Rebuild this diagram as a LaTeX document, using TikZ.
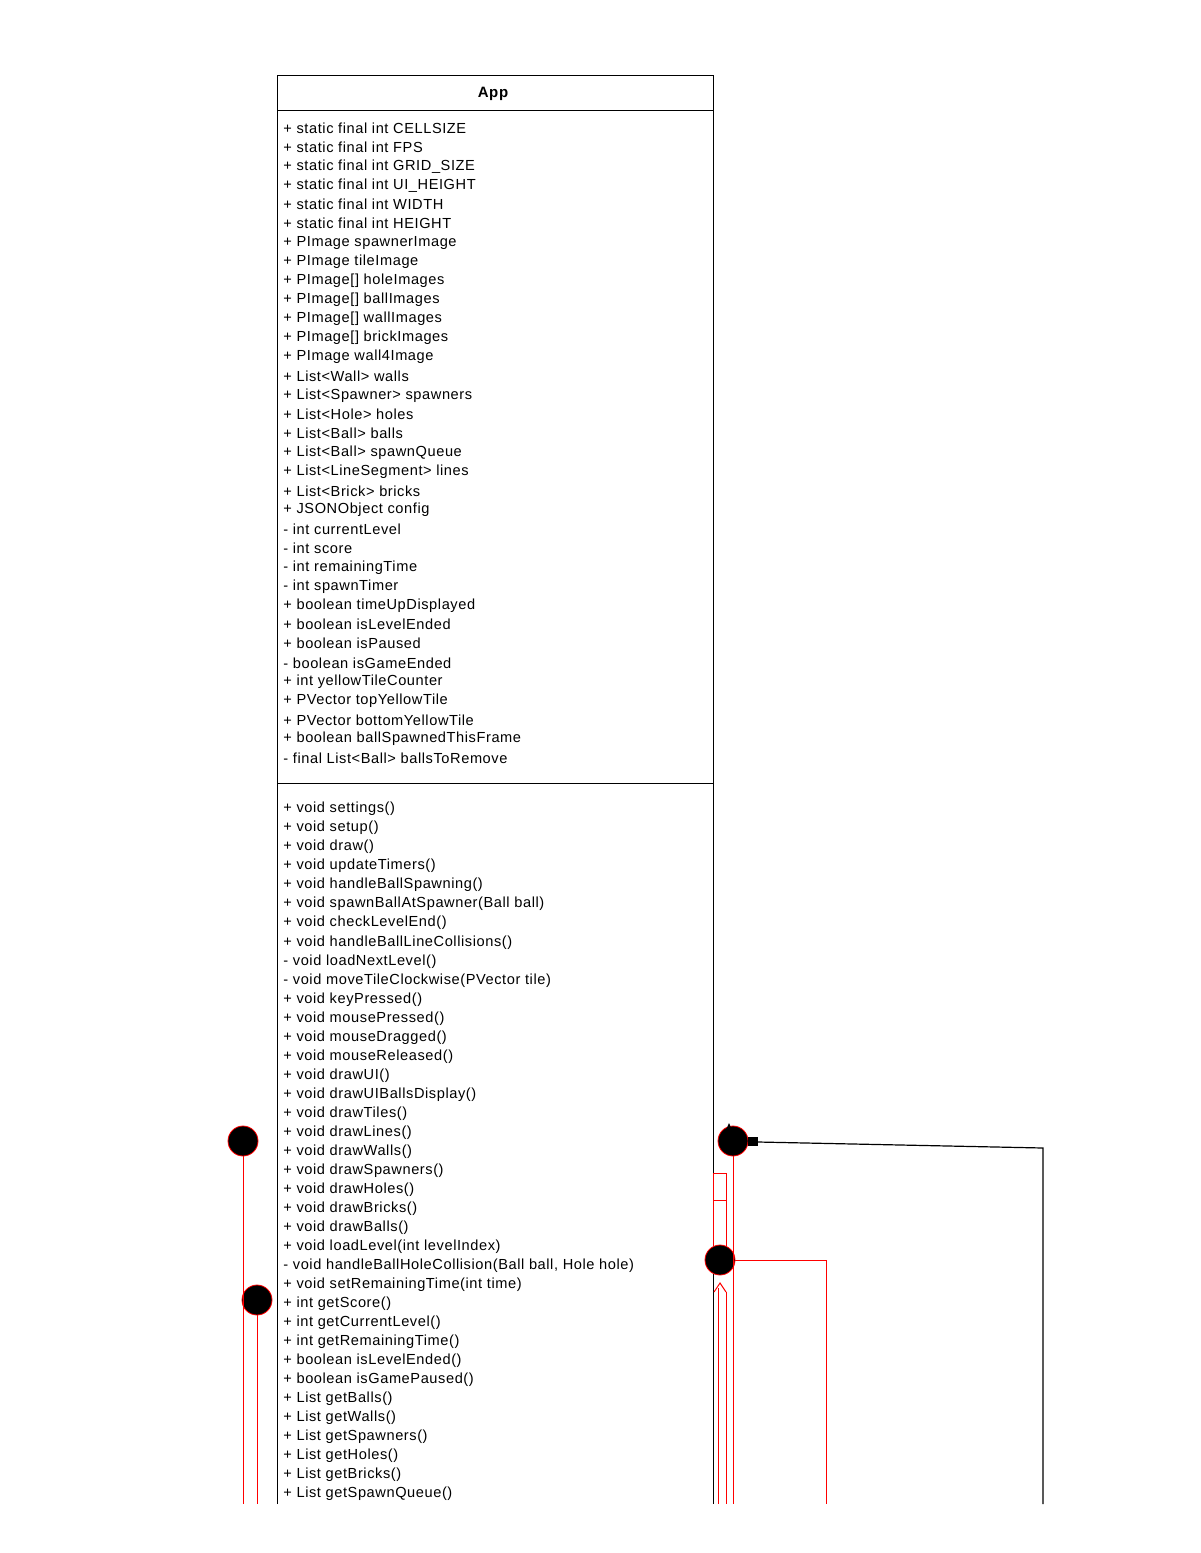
\documentclass[tikz,border=0pt]{standalone}
\usepackage{fontspec}
\setmainfont{Liberation Sans}[LetterSpace=4]
\begin{document}
\begin{tikzpicture}[x=0.5pt,y=-0.5pt,
  txt/.style={anchor=west,inner sep=0pt,font=\fontsize{7.3}{8}\selectfont},
  red/.style={draw=red,line width=0.5pt},
  dot/.style={circle,fill=black,draw=red,minimum size=15pt,inner sep=0pt}]
\useasboundingbox (0,0) rectangle (1200,1553);
\draw[line width=0.5pt] (277,1504) -- (277,75) -- (713,75) -- (713,1504);
\draw[line width=0.5pt] (277,110) -- (713,110) (277,783) -- (713,783);
\node[font=\fontsize{7.5}{8}\selectfont\bfseries] (title) at (493,94) {App};
\foreach \t [count=\i from 0] in {
+ static final int CELLSIZE,+ static final int FPS,+ static final int GRID\_SIZE,+ static final int UI\_HEIGHT,+ static final int WIDTH,+ static final int HEIGHT,+ PImage spawnerImage,+ PImage tileImage,+ PImage[] holeImages,+ PImage[] ballImages,+ PImage[] wallImages,+ PImage[] brickImages,+ PImage wall4Image,+ List<Wall> walls,+ List<Spawner> spawners,+ List<Hole> holes,+ List<Ball> balls,+ List<Ball> spawnQueue,+ List<LineSegment> lines,+ List<Brick> bricks,+ JSONObject config,- int currentLevel,- int score,- int remainingTime,- int spawnTimer,+ boolean timeUpDisplayed,+ boolean isLevelEnded,+ boolean isPaused,- boolean isGameEnded,+ int yellowTileCounter,+ PVector topYellowTile,+ PVector bottomYellowTile,+ boolean ballSpawnedThisFrame,- final List<Ball> ballsToRemove}
  \node[txt] (a\i) at (283,{128+19.1*\i}) {\t};
\foreach \t [count=\i from 0] in {
+ void settings(),+ void setup(),+ void draw(),+ void updateTimers(),+ void handleBallSpawning(),+ void spawnBallAtSpawner(Ball ball),+ void checkLevelEnd(),+ void handleBallLineCollisions(),- void loadNextLevel(),- void moveTileClockwise(PVector tile),+ void keyPressed(),+ void mousePressed(),+ void mouseDragged(),+ void mouseReleased(),+ void drawUI(),+ void drawUIBallsDisplay(),+ void drawTiles(),+ void drawLines(),+ void drawWalls(),+ void drawSpawners(),+ void drawHoles(),+ void drawBricks(),+ void drawBalls(),+ void loadLevel(int levelIndex),- void handleBallHoleCollision(Ball ball{,} Hole hole),+ void setRemainingTime(int time),+ int getScore(),+ int getCurrentLevel(),+ int getRemainingTime(),+ boolean isLevelEnded(),+ boolean isGamePaused(),+ List getBalls(),+ List getWalls(),+ List getSpawners(),+ List getHoles(),+ List getBricks(),+ List getSpawnQueue()}
  \node[txt] (m\i) at (283,{809+19.03*\i}) {\t};
% left connectors
\node[dot] (l1) at (243,1141) {};
\node[dot] (l2) at (257,1300) {};
\coordinate (l1e) at (243,1504); \coordinate (l2e) at (257,1504);
\draw[red] (l1) -- (l1e); \draw[red] (l2) -- (l2e);
% right connectors
\draw[red] (713,1173) rectangle (726,1246); \draw[red] (713,1200) -- (726,1200);
\node[dot] (r1) at (733,1141) {};
\node[dot] (r2) at (720,1260) {};
\coordinate (r1e) at (733,1504);
\draw[red] (r1) -- (r1e);
\coordinate (c1) at (826,1260); \coordinate (c2) at (826,1504);
\draw[red] (r2) -- (c1) -- (c2);
\draw[red] (714,1292) -- (720,1283) -- (726,1292);
\draw[red] (718,1288) -- (718,1504) (726,1292) -- (726,1504);
\fill (748,1137) rectangle +(10,9);
\fill (729,1123) -- (732,1130) -- (726,1130) -- cycle;
\coordinate (k1) at (1043,1148); \coordinate (k2) at (1043,1504);
\draw[line width=0.6pt] (758,1142) -- (k1) -- (k2);
\end{tikzpicture}
\end{document}
